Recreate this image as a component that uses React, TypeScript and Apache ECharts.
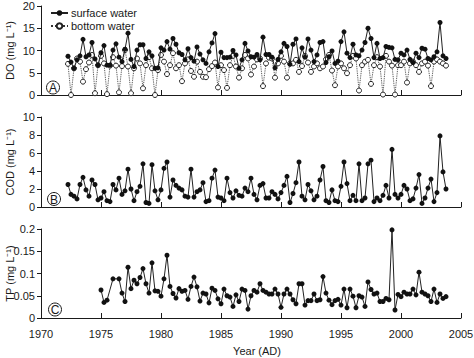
import React, { useEffect, useRef } from "react";
import * as echarts from "echarts";

// Quarterly sampling: DO and COD from 1972.25, TP from 1975.0
const doStartYear = 1972.25;
const tpStartYear = 1975.0;

const doSurface = [
  8.7, 7.4, 6.0, 7.9, 8.8, 12.5, 8.6, 9.0, 11.8, 8.1,
  6.7, 9.5, 11.1, 6.7, 6.7, 10.1, 11.5, 8.5, 7.5, 10.3,
  13.9, 8.0, 6.4, 10.1, 11.3, 11.3, 8.2, 9.7, 8.8, 6.0,
  6.1, 10.6, 10.1, 12.0, 10.3, 12.7, 11.4, 9.5, 9.1, 7.9,
  10.4, 8.4, 7.6, 10.8, 9.2, 7.9, 7.1, 9.7, 11.7, 13.8,
  6.4, 9.6, 8.4, 8.4, 8.5, 10.0, 9.0, 6.0, 7.9, 11.6,
  9.9, 8.6, 8.5, 9.1, 7.9, 13.0, 9.1, 9.1, 8.5, 6.1,
  8.0, 9.7, 11.6, 10.9, 6.9, 11.4, 12.6, 7.5, 10.6, 8.5,
  12.6, 10.1, 7.5, 9.0, 11.8, 12.0, 7.3, 8.6, 9.9, 7.1,
  7.6, 12.0, 14.2, 9.4, 8.4, 11.4, 9.0, 8.8, 10.1, 11.8,
  15.0, 12.7, 8.4, 11.6, 8.2, 8.4, 10.9, 10.7, 10.6, 8.0,
  7.9, 9.4, 9.0, 10.1, 8.0, 7.3, 9.4, 8.4, 10.5, 10.3,
  8.2, 7.9, 8.6, 9.7, 16.3, 8.8, 8.2,
];

const doBottom = [
  7.0, 0.0, 6.0, 8.2, 7.5, 3.0, 5.8, 7.3, 9.0, 0.4,
  6.7, 8.8, 7.1, 0.2, 6.6, 8.5, 6.6, 0.6, 6.5, 10.1,
  6.4, 0.4, 6.0, 8.2, 7.1, 1.5, 6.7, 8.5, 6.0, 0.0,
  5.6, 9.0, 7.5, 4.7, 6.7, 9.4, 6.0, 6.7, 3.1, 7.1,
  8.0, 5.4, 4.1, 7.5, 5.2, 4.1, 4.0, 5.8, 6.5, 7.3,
  1.7, 6.7, 5.6, 1.6, 6.7, 8.8, 6.4, 3.9, 6.0, 9.0,
  8.2, 4.6, 6.4, 8.0, 8.2, 2.0, 7.1, 8.4, 8.2, 3.9,
  7.1, 8.8, 7.5, 3.9, 7.1, 7.1, 7.9, 5.2, 6.5, 8.8,
  7.3, 5.2, 6.4, 7.1, 6.0, 6.4, 8.0, 9.0, 5.5, 2.2,
  6.4, 7.1, 6.0, 4.9, 6.7, 8.8, 8.2, 1.0, 6.7, 7.5,
  7.9, 2.5, 6.7, 8.5, 6.4, 0.1, 8.8, 7.5, 6.6, 0.1,
  6.7, 6.7, 7.5, 2.8, 7.1, 7.5, 6.7, 5.2, 7.1, 7.5,
  6.6, 2.0, 7.5, 8.0, 7.5, 7.1, 6.6,
];

const cod = [
  2.5, 1.4, 1.2, 0.9, 2.5, 3.3, 1.9, 1.2, 3.0, 2.5,
  0.8, 1.0, 1.7, 0.7, 0.6, 2.5, 1.9, 3.2, 1.4, 1.8,
  4.2, 2.0, 0.7, 1.7, 2.3, 4.8, 0.5, 0.4, 4.7, 1.8,
  0.8, 1.9, 4.3, 5.0, 1.1, 3.0, 2.4, 2.1, 1.9, 1.2,
  1.1, 4.2, 1.1, 1.7, 1.9, 2.7, 0.6, 0.7, 3.2, 4.1,
  1.1, 1.0, 0.7, 3.2, 1.6, 1.0, 1.8, 1.3, 1.2, 2.1,
  1.7, 3.2, 1.4, 0.8, 2.4, 2.6, 1.0, 1.0, 1.7, 1.4,
  0.9, 1.6, 2.4, 3.4, 0.5, 1.5, 2.7, 5.0, 1.2, 0.8,
  2.5, 1.8, 0.8, 1.2, 3.0, 4.5, 0.7, 0.5, 1.9, 0.7,
  0.6, 2.3, 5.0, 2.6, 0.7, 1.3, 0.7, 4.8, 0.7, 1.0,
  4.8, 5.2, 0.6, 1.0, 0.7, 1.3, 2.4, 1.0, 6.4, 1.4,
  1.0, 1.4, 2.4, 2.0, 0.7, 0.9, 2.1, 3.6, 0.4, 1.0,
  2.1, 3.1, 0.6, 1.6, 7.9, 3.9, 2.0,
];

const tp: (number | null)[] = [
  0.063, 0.035, 0.040, null, 0.088, null, 0.088, 0.056, 0.037, 0.114,
  0.066, 0.085, 0.077, 0.091, 0.111, 0.077, 0.056, 0.124, 0.061, 0.060,
  0.049, 0.088, 0.141, 0.071, 0.055, 0.045, 0.066, 0.060, 0.062, 0.042,
  0.071, 0.092, 0.070, 0.038, 0.056, 0.054, 0.034, 0.067, 0.062, 0.043,
  0.032, 0.065, 0.050, 0.047, 0.026, 0.052, 0.037, 0.065, 0.062, 0.020,
  0.050, 0.062, 0.058, 0.077, 0.062, 0.058, 0.054, 0.054, 0.065, 0.054,
  0.024, 0.054, 0.065, 0.054, 0.041, 0.032, 0.077, 0.077, 0.029, 0.039,
  0.039, 0.054, 0.039, 0.041, 0.093, 0.056, 0.040, 0.030, 0.039, 0.042,
  0.029, 0.065, 0.023, 0.065, 0.049, 0.023, 0.050, 0.047, 0.026, 0.081,
  0.064, 0.054, 0.056, 0.037, 0.037, 0.044, 0.041, 0.198, 0.018, 0.053,
  0.048, 0.058, 0.054, 0.054, 0.065, 0.052, 0.103, 0.058, 0.054, 0.050,
  0.037, 0.065, 0.035, 0.054, 0.044, 0.048,
];

const yearTicks = [1970, 1975, 1980, 1985, 1990, 1995, 2000, 2005];
const panelLetters = ["A", "B", "C"];
const yNames = ["DO (mg L\u207B\u00B9)", "COD (mg L\u207B\u00B9)", "TP (mg L\u207B\u00B9)"];

const FONT = "'Liberation Sans', Arial, sans-serif";
const INK = "#1a1a1a";
const FS = 11;

function toPairs(values: (number | null)[], start: number) {
  const out: [number, number][] = [];
  values.forEach((v, i) => {
    if (v !== null) out.push([start + i / 4, v]);
  });
  return out;
}

export default function App() {
  const ref = useRef<HTMLDivElement>(null);
  useEffect(() => {
    document.body.style.margin = "0";
    if (!ref.current) return;
    const chart = echarts.init(ref.current, null, { renderer: "svg" });

    const grids = [
      { left: 41, right: 13, top: 6, height: 89, outerBoundsMode: "none", containLabel: false },
      { left: 41, right: 13, top: 117, height: 90, outerBoundsMode: "none", containLabel: false },
      { left: 41, right: 13, top: 229, height: 89, outerBoundsMode: "none", containLabel: false },
    ];

    const xAxes = grids.map((_, k) => ({
      type: "value",
      gridIndex: k,
      min: yearTicks[0],
      max: yearTicks[yearTicks.length - 1],
      interval: 5,
      axisLine: { show: true, lineStyle: { color: INK, width: 1 } },
      axisTick: { show: true, inside: true, length: 5, lineStyle: { color: INK } },
      axisLabel: {
        show: k === 2,
        color: INK,
        fontSize: FS,
        fontFamily: FONT,
        margin: 10,
        formatter: (v: number) => String(v),
      },
      splitLine: { show: false },
    }));

    const yCfg = [
      { min: 0, max: 20, interval: 5 },
      { min: 0, max: 10, interval: 2 },
      { min: 0, max: 0.2, interval: 0.05 },
    ];
    const yAxes = yCfg.map((c, k) => ({
      type: "value",
      gridIndex: k,
      min: c.min,
      max: c.max,
      interval: c.interval,
      name: yNames[k],
      nameLocation: "middle",
      nameGap: 26,
      nameRotate: 90,
      nameMoveOverlap: false,
      nameTextStyle: { color: INK, fontSize: FS, fontFamily: FONT },
      axisLine: { show: true, lineStyle: { color: INK, width: 1 } },
      axisTick: { show: true, inside: false, length: 4, lineStyle: { color: INK } },
      axisLabel: {
        color: INK,
        fontSize: FS,
        fontFamily: FONT,
        margin: 6,
        formatter: (v: number) => (k === 2 ? String(parseFloat(v.toFixed(2))) : String(v)),
      },
      splitLine: { show: false },
    }));

    const letterGraphics: any[] = [];
    const letterPos = [
      [53, 87.5],
      [54, 199],
      [55, 309.5],
    ];
    letterPos.forEach(([cx, cy], k) => {
      letterGraphics.push({
        type: "circle",
        shape: { cx, cy, r: 6.5 },
        style: { fill: "none", stroke: INK, lineWidth: 1 },
      });
      letterGraphics.push({
        type: "text",
        x: cx,
        y: cy + 0.5,
        style: {
          text: panelLetters[k],
          fill: INK,
          font: `12px ${FONT}`,
          textAlign: "center",
          textVerticalAlign: "middle",
        },
      });
    });
    letterGraphics.push({
      type: "text",
      x: 257,
      y: 351,
      style: {
        text: "Year (AD)",
        fill: INK,
        font: `${FS}px ${FONT}`,
        textAlign: "center",
        textVerticalAlign: "middle",
      },
    });

    chart.setOption({
      animation: false,
      backgroundColor: "#ffffff",
      textStyle: { fontFamily: FONT },
      grid: grids,
      xAxis: xAxes,
      yAxis: yAxes,
      legend: {
        orient: "vertical",
        left: 50,
        top: 7,
        padding: 0,
        itemGap: 1,
        itemWidth: 17,
        itemHeight: 7,
        textStyle: { color: INK, fontSize: FS, fontFamily: FONT, lineHeight: 12, padding: [0, 0, 0, -2] },
        data: ["surface water", "bottom water"],
      },
      graphic: letterGraphics,
      series: [
        {
          name: "bottom water",
          type: "line",
          xAxisIndex: 0,
          yAxisIndex: 0,
          data: toPairs(doBottom, doStartYear),
          symbol: "circle",
          symbolSize: 5,
          lineStyle: { color: "#333", width: 0.9, type: "dotted" },
          itemStyle: { color: "#ffffff", borderColor: "#222", borderWidth: 1 },
          z: 2,
        },
        {
          name: "surface water",
          type: "line",
          xAxisIndex: 0,
          yAxisIndex: 0,
          data: toPairs(doSurface, doStartYear),
          symbol: "circle",
          symbolSize: 5,
          lineStyle: { color: "#222", width: 1 },
          itemStyle: { color: "#111", borderColor: "#111", borderWidth: 0 },
          z: 3,
        },
        {
          name: "COD",
          type: "line",
          xAxisIndex: 1,
          yAxisIndex: 1,
          data: toPairs(cod, doStartYear),
          symbol: "circle",
          symbolSize: 5,
          lineStyle: { color: "#222", width: 1 },
          itemStyle: { color: "#111", borderWidth: 0 },
        },
        {
          name: "TP",
          type: "line",
          xAxisIndex: 2,
          yAxisIndex: 2,
          data: toPairs(tp, tpStartYear),
          symbol: "circle",
          symbolSize: 5,
          connectNulls: true,
          lineStyle: { color: "#222", width: 1 },
          itemStyle: { color: "#111", borderWidth: 0 },
        },
      ],
    });
    return () => chart.dispose();
  }, []);
  return (
    <div
      ref={ref}
      style={{ position: "fixed", left: 0, top: 0, width: 474, height: 358 }}
    />
  );
}
